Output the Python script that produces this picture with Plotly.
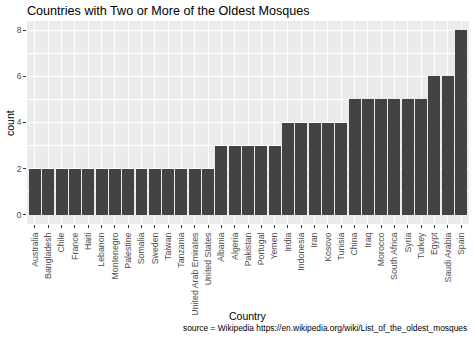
import plotly.graph_objects as go

countries = [
    "Australia", "Bangladesh", "Chile", "France", "Haiti", "Lebanon", "Montenegro",
    "Palestine", "Somalia", "Sweden", "Taiwan", "Tanzania", "United Arab Emirates",
    "United States", "Albania", "Algeria", "Pakistan", "Portugal", "Yemen", "India",
    "Indonesia", "Iran", "Kosovo", "Tunisia", "China", "Iraq", "Morocco",
    "South Africa", "Syria", "Turkey", "Egypt", "Saudi Arabia", "Spain",
]
counts = [2, 2, 2, 2, 2, 2, 2, 2, 2, 2, 2, 2, 2, 2,
          3, 3, 3, 3, 3,
          4, 4, 4, 4, 4,
          5, 5, 5, 5, 5, 5,
          6, 6,
          8]
y_ticks = [0, 2, 4, 6, 8]

FONT = "Liberation Sans, Arial, sans-serif"
W, H = 474, 338
L, R, T, B = 27, 5, 21, 114
n = len(countries)


def px_x(px):
    """Page pixel x -> plot-area paper fraction."""
    return (px - L) / (W - L - R)


def px_y(py):
    """Page pixel y -> plot-area paper fraction."""
    return (H - B - py) / (H - T - B)


fig = go.Figure(go.Bar(
    x=countries, y=counts, width=0.9,
    marker=dict(color="#434343", line=dict(width=0)),
))

fig.update_layout(
    width=W, height=H,
    margin=dict(l=L, r=R, t=T, b=B),
    paper_bgcolor="white", plot_bgcolor="#EBEBEB",
    font=dict(family=FONT, color="#4D4D4D"),
    showlegend=False, bargap=0,
    title=dict(text="Countries with Two or More of the Oldest Mosques",
               x=L / W, xanchor="left", y=1 - 11 / H, yanchor="middle",
               font=dict(size=12.6, color="black", family=FONT)),
    xaxis=dict(type="category", range=[-0.6, n - 0.4],
               showgrid=True, gridcolor="white", gridwidth=1,
               ticks="outside", ticklen=3, tickwidth=1, tickcolor="#333333",
               tickangle=-90, tickfont=dict(size=8.8, color="#4D4D4D"),
               ticklabelstandoff=1,
               showline=False, zeroline=False),
    yaxis=dict(range=[-0.4, 8.4], tickvals=y_ticks,
               showgrid=True, gridcolor="white", gridwidth=1,
               minor=dict(dtick=1, showgrid=True, gridcolor="white", gridwidth=0.5),
               ticks="outside", ticklen=3, tickwidth=1, tickcolor="#333333",
               tickfont=dict(size=8.4, color="#4D4D4D"),
               showline=False, zeroline=False),
    annotations=[
        dict(text="Country", x=px_x(248), y=px_y(316), xref="paper", yref="paper",
             showarrow=False, xanchor="center", yanchor="middle",
             font=dict(size=10.5, color="black", family=FONT)),
        dict(text="count", x=px_x(10), y=px_y(123), xref="paper", yref="paper",
             showarrow=False, xanchor="center", yanchor="middle", textangle=-90,
             font=dict(size=10.5, color="black", family=FONT)),
        dict(text="source = Wikipedia https://en.wikipedia.org/wiki/List_of_the_oldest_mosques",
             x=px_x(469), y=px_y(328), xref="paper", yref="paper",
             showarrow=False, xanchor="right", yanchor="middle",
             font=dict(size=8.4, color="black", family=FONT)),
    ],
)

fig.write_html("out.html")
